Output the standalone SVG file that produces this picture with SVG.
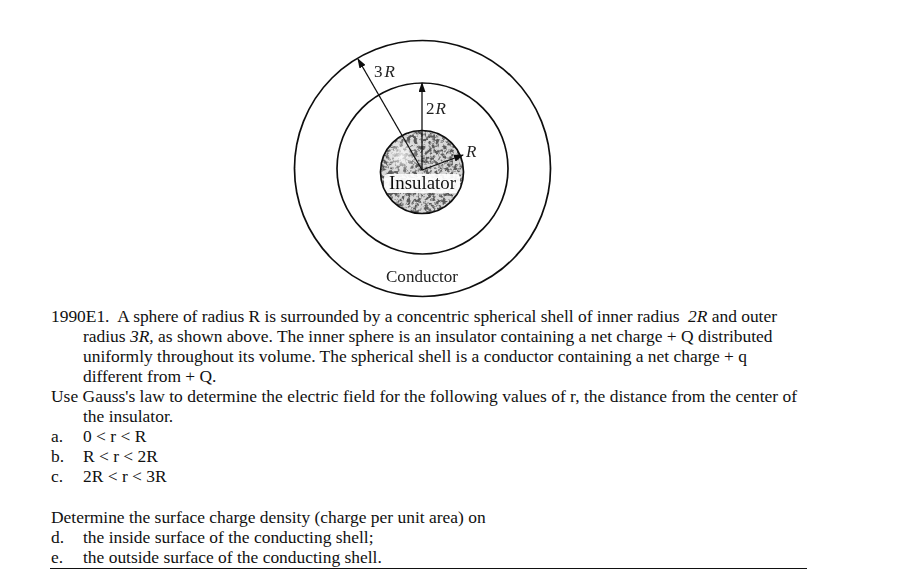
<svg xmlns="http://www.w3.org/2000/svg" width="916" height="576" viewBox="0 0 916 576">
<defs>
<marker id="a" markerWidth="10" markerHeight="7" refX="9" refY="3.500" orient="auto" markerUnits="userSpaceOnUse"><path d="M0 0L10 3.500L0 7Z" fill="#111"/></marker>
<filter id="n" x="0" y="0" width="100%" height="100%"><feTurbulence type="fractalNoise" baseFrequency="0.28" numOctaves="4" seed="11"/><feColorMatrix values="0 0 0 0 0.1 0 0 0 0 0.1 0 0 0 0 0.1 3.400 3.400 0 0 -3.100"/><feComposite in2="SourceGraphic" operator="in"/><feGaussianBlur stdDeviation="0.4"/></filter>
<filter id="s" x="-5%" y="-5%" width="110%" height="110%"><feGaussianBlur stdDeviation="0.35"/></filter>
<radialGradient id="w" cx="50%" cy="50%" r="50%"><stop offset="0" stop-color="#fff" stop-opacity=".85"/><stop offset="1" stop-color="#fff" stop-opacity="0"/></radialGradient>
<clipPath id="ins"><circle cx="422" cy="172" r="41.500"/></clipPath>
</defs>
<style>
text{white-space:pre}
.t{font-family:"Liberation Serif","Times New Roman",serif;font-size:17.450px;fill:#111}
.d{font-family:"Liberation Serif",serif;font-size:17px;fill:#222}
.i{font-style:italic}
.c{fill:none;stroke:#111;stroke-width:1.700}
.l{stroke:#111;stroke-width:1.300;fill:none;marker-end:url(#a)}
</style>
<rect width="916" height="576" fill="#fff"/>
<g filter="url(#s)">
<g id="outer-shell"><circle class="c" cx="422.500" cy="168.500" r="128"/></g>
<g id="inner-shell"><circle class="c" cx="422.500" cy="168.500" r="85.500"/></g>
<g id="insulator">
<circle cx="422" cy="172" r="41.500" fill="#d8d8d8"/>
<circle cx="422" cy="172" r="41.500" fill="#000" filter="url(#n)"/>
<ellipse cx="402" cy="156" rx="17" ry="18" fill="url(#w)"/>
<g clip-path="url(#ins)"><rect x="384" y="174" width="76" height="19" rx="4" fill="#fff" opacity=".92"/></g>
<circle class="c" cx="422" cy="172" r="41.500"/>
<text class="d" x="389" y="189" textLength="67" lengthAdjust="spacingAndGlyphs" style="font-size:18px;fill:#111">Insulator</text>
</g>
<g id="connectors">
<path class="l" d="M422 170L358 59"/>
<path class="l" d="M422 170V83"/>
<path class="l" d="M422 170L463 155"/>
</g>
<g id="labels">
<text class="d" x="374" y="77" textLength="21">3<tspan class="i">R</tspan></text>
<text class="d" x="426" y="114" textLength="20">2<tspan class="i">R</tspan></text>
<text class="d i" x="466" y="157">R</text>
<text class="d" x="386" y="281.500" textLength="72" lengthAdjust="spacingAndGlyphs">Conductor</text>
</g>
</g>
<g id="text">
<text class="t" x="51" y="321.700" textLength="726">1990E1.  A sphere of radius R is surrounded by a concentric spherical shell of inner radius  <tspan class="i">2R</tspan> and outer</text>
<text class="t" x="83" y="341.700">radius <tspan class="i">3R,</tspan> as shown above. The inner sphere is an insulator containing a net charge + Q distributed</text>
<text class="t" x="83" y="361.700">uniformly throughout its volume. The spherical shell is a conductor containing a net charge + q</text>
<text class="t" x="83" y="381.700">different from + Q.</text>
<text class="t" x="51" y="401.700" textLength="746">Use Gauss's law to determine the electric field for the following values of r, the distance from the center of</text>
<text class="t" x="83" y="421.700">the insulator.</text>
<text class="t" x="51" y="441.700">a.</text><text class="t" x="83" y="441.700">0 &lt; r &lt; R</text>
<text class="t" x="51" y="461.700">b.</text><text class="t" x="83" y="461.700">R &lt; r &lt; 2R</text>
<text class="t" x="51" y="481.700">c.</text><text class="t" x="83" y="481.700">2R &lt; r &lt; 3R</text>
<text class="t" x="51" y="522.700">Determine the surface charge density (charge per unit area) on</text>
<text class="t" x="51" y="542.700">d.</text><text class="t" x="83" y="542.700">the inside surface of the conducting shell;</text>
<text class="t" x="51" y="562.700">e.</text><text class="t" x="83" y="562.700">the outside surface of the conducting shell.</text>
</g>
<path id="rule" d="M50 568.500H807" stroke="#111" stroke-width="1.200"/>
</svg>
